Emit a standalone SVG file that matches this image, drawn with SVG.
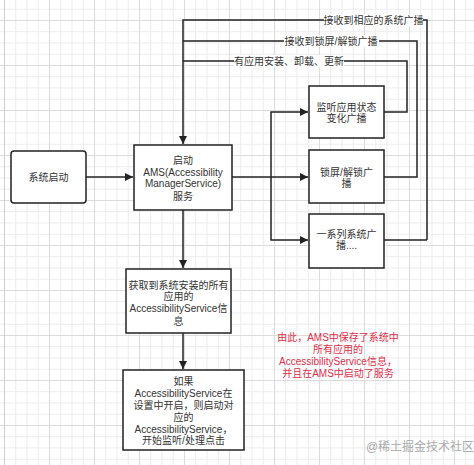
<svg xmlns="http://www.w3.org/2000/svg" width="474" height="465" viewBox="0 0 474 465">
<defs>
<pattern id="minor" x="4" y="20" width="11.25" height="11.25" patternUnits="userSpaceOnUse">
<path d="M0 0.5H11.25M0.5 0V11.25" fill="none" stroke="#ececec" stroke-width="1"/>
</pattern>
<pattern id="major" x="4" y="20" width="45" height="45" patternUnits="userSpaceOnUse">
<path d="M0 0.5H45M0.5 0V45" fill="none" stroke="#dcdcdc" stroke-width="1"/>
</pattern>
<marker id="arr" viewBox="0 0 10 10" refX="10" refY="5" markerWidth="8" markerHeight="8" markerUnits="userSpaceOnUse" orient="auto">
<path d="M0 0L10 5L0 10z" fill="#222"/>
</marker>
</defs>
<style>
.box{fill:#fff;stroke:#222;stroke-width:1.5}
.t{font-family:"Liberation Sans","Noto Sans CJK SC",sans-serif;font-size:10px;fill:#333;text-anchor:middle}
.c{fill:none;stroke:#222;stroke-width:1.5}
.red{fill:#e0304a}
.lbl{fill:#fff}
</style>
<rect width="474" height="465" fill="#fff"/>
<rect width="474" height="465" fill="url(#minor)"/>
<rect width="474" height="465" fill="url(#major)"/>
<line x1="4.5" y1="0" x2="4.5" y2="465" stroke="#d0d0d0"/>

<g id="connectors">
<path class="c" d="M427 240H427V20H183V144" marker-end="url(#arr)"/>
<path class="c" d="M384 177H417V41H183"/>
<path class="c" d="M384 112H407V61H183"/>
<path class="c" d="M384 240H427"/>
<path class="c" d="M86 177H133" marker-end="url(#arr)"/>
<path class="c" d="M232 177H308" marker-end="url(#arr)"/>
<path class="c" d="M271 177V112H308" marker-end="url(#arr)"/>
<path class="c" d="M271 177V240H308" marker-end="url(#arr)"/>
<path class="c" d="M183 210V268" marker-end="url(#arr)"/>
<path class="c" d="M183 333V369" marker-end="url(#arr)"/>
<rect class="lbl" x="324" y="14" width="99" height="12"/>
<text class="t" x="373.5" y="24">接收到相应的系统广播</text>
<rect class="lbl" x="284" y="35" width="95" height="12"/>
<text class="t" x="331" y="45">接收到锁屏/解锁广播</text>
<rect class="lbl" x="234" y="55" width="110" height="12"/>
<text class="t" x="289" y="65">有应用安装、卸载、更新</text>
</g>

<g id="start">
<rect class="box" x="11" y="151" width="75" height="52" rx="3"/>
<text class="t" x="48.5" y="180.5">系统启动</text>
</g>

<g id="ams">
<rect class="box" x="134" y="145" width="98" height="65"/>
<text class="t" x="183" y="163.5">启动</text>
<text class="t" x="183" y="175.5">AMS(Accessibility</text>
<text class="t" x="183" y="187">ManagerService)</text>
<text class="t" x="183" y="199.5">服务</text>
</g>

<g id="listen">
<rect class="box" x="309" y="86" width="75" height="52"/>
<text class="t" x="346.5" y="110.5">监听应用状态</text>
<text class="t" x="346.5" y="121.5">变化广播</text>
</g>

<g id="lock">
<rect class="box" x="309" y="150" width="75" height="53"/>
<text class="t" x="346.5" y="175.5">锁屏/解锁广</text>
<text class="t" x="346.5" y="186.5">播</text>
</g>

<g id="series">
<rect class="box" x="309" y="214" width="75" height="54"/>
<text class="t" x="346.5" y="237.5">一系列系统广</text>
<text class="t" x="346.5" y="248.5">播....</text>
</g>

<g id="fetch">
<rect class="box" x="126" y="269" width="105" height="64"/>
<text class="t" x="178.5" y="288.5">获取到系统安装的所有</text>
<text class="t" x="178.5" y="299.5">应用的</text>
<text class="t" x="178.5" y="311.5">AccessibilityService信</text>
<text class="t" x="178.5" y="324.5">息</text>
</g>

<g id="enable">
<rect class="box" x="123" y="370" width="121" height="80"/>
<text class="t" x="183.5" y="384.5">如果</text>
<text class="t" x="183.5" y="396.5">AccessibilityService在</text>
<text class="t" x="183.5" y="408.5">设置中开启，则启动对</text>
<text class="t" x="183.5" y="420.5">应的</text>
<text class="t" x="183.5" y="432.5">AccessibilityService，</text>
<text class="t" x="183.5" y="443.5">开始监听/处理点击</text>
</g>

<g id="note">
<text class="t red" x="338" y="340.5">由此，AMS中保存了系统中</text>
<text class="t red" x="338" y="352.5">所有应用的</text>
<text class="t red" x="338" y="365">AccessibilityService信息，</text>
<text class="t red" x="338" y="376.5">并且在AMS中启动了服务</text>
</g>

<g id="watermark">
<text x="420" y="451" style="font-family:'Liberation Sans','Noto Sans CJK SC',sans-serif;font-size:12px;fill:#aaa;text-anchor:middle">@稀土掘金技术社区</text>
</g>
</svg>
